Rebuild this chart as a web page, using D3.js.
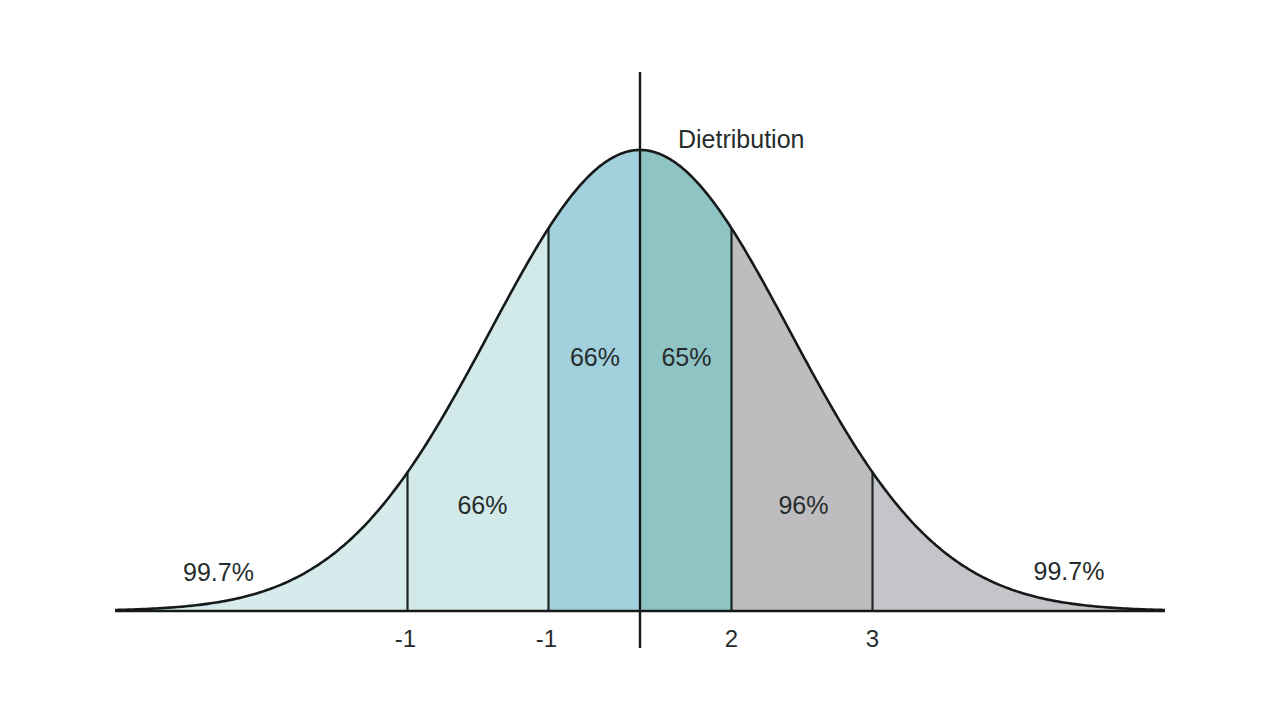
<!DOCTYPE html>
<html><head><meta charset="utf-8">
<script src="https://cdn.jsdelivr.net/npm/d3@7/dist/d3.min.js"></script>
<style>html,body{margin:0;padding:0;background:#fff;}svg{display:block;}</style>
</head><body>
<svg id="chart" width="1280" height="720"></svg>
<script>
// Data (z units, sigma = 1)
const cuts = [-3.5, -1.55, -0.61, 0, 0.61, 1.55, 3.5];
const regionColors = ["#d6ebeb", "#d2e9ea", "#a2d0dd", "#8fc4c4", "#bdbdbf", "#c5c5c9"];
const regionLabels = ["99.7%", "66%", "66%", "65%", "96%", "99.7%"];
const labelZ = [-2.81, -1.05, -0.3, 0.31, 1.09, 2.86];
const labelLevel = [0.085, 0.23, 0.551, 0.551, 0.23, 0.087];
const tickValues = [-1.55, -0.61, 0.61, 1.55];
const tickLabels = ["-1", "-1", "2", "3"];
const title = "Dietribution";

const svg = d3.select("#chart");
const x = d3.scaleLinear().domain([-3.5, 3.5]).range([115, 1165]);
const pdf = z => Math.exp(-z * z / 2) / Math.sqrt(2 * Math.PI);
const y = d3.scaleLinear().domain([0, pdf(0)]).range([611, 150]);
const yl = d3.scaleLinear().domain([0, 1]).range([611, 150]);

const area = d3.area().x(d => x(d)).y0(y(0)).y1(d => y(pdf(d)));
const line = d3.line().x(d => x(d)).y(d => y(pdf(d)));

function samples(a, b) {
  const n = Math.max(2, Math.ceil((b - a) * 80));
  return d3.range(n + 1).map(i => a + (b - a) * i / n);
}

const font = "Liberation Sans, Arial, sans-serif";
const textColor = "#262c2c";

// region fills
for (let i = 0; i < cuts.length - 1; i++) {
  svg.append("path").attr("d", area(samples(cuts[i], cuts[i + 1])))
    .attr("fill", regionColors[i]);
}

// divider lines
svg.selectAll("line.div").data(tickValues).enter().append("line")
  .attr("x1", d => x(d)).attr("x2", d => x(d))
  .attr("y1", y(0)).attr("y2", d => y(pdf(d)))
  .attr("stroke", "#1c2626").attr("stroke-width", 2.2);

// curve
svg.append("path").attr("d", line(samples(-3.5, 3.5)))
  .attr("fill", "none").attr("stroke", "#161a1a").attr("stroke-width", 2.6);

// baseline
svg.append("line").attr("x1", x(-3.5)).attr("x2", x(3.5))
  .attr("y1", y(0)).attr("y2", y(0))
  .attr("stroke", "#161a1a").attr("stroke-width", 2.4);

// center axis line
svg.append("line").attr("x1", x(0)).attr("x2", x(0))
  .attr("y1", 72).attr("y2", 648)
  .attr("stroke", "#161a1a").attr("stroke-width", 2.4);

// region labels
svg.selectAll("text.rl").data(regionLabels).enter().append("text")
  .attr("x", (d, i) => x(labelZ[i])).attr("y", (d, i) => yl(labelLevel[i]))
  .attr("dy", "0.35em").attr("text-anchor", "middle")
  .attr("font-family", font).attr("font-size", 25)
  .attr("fill", textColor).text(d => d);

// tick labels
svg.selectAll("text.tl").data(tickLabels).enter().append("text")
  .attr("x", (d, i) => x(tickValues[i]) - (d.startsWith("-") ? 2 : 0)).attr("y", 639)
  .attr("dy", "0.35em").attr("text-anchor", "middle")
  .attr("font-family", font).attr("font-size", 24)
  .attr("fill", textColor).text(d => d);

// title
svg.append("text").attr("x", 678).attr("y", 148)
  .attr("font-family", font).attr("font-size", 25)
  .attr("fill", textColor).text(title);
</script>
</body></html>
